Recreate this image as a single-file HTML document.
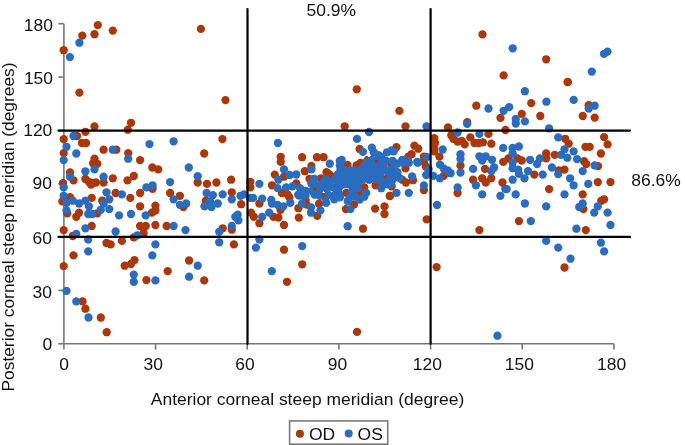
<!DOCTYPE html>
<html><head><meta charset="utf-8"><title>Scatter plot</title>
<style>html,body{margin:0;padding:0;background:#fff;}svg{display:block;}#w{width:685px;height:445px;}
text{font-family:"Liberation Sans",Arial,Helvetica,sans-serif;fill:#111;}</style></head>
<body><div id="w"><svg width="685" height="445" viewBox="0 0 685 445">
<rect width="685" height="445" fill="#fff"/>
<g><line x1="63.9" y1="23.7" x2="63.9" y2="343.8" stroke="#767676" stroke-width="1.6"/>
<line x1="63.9" y1="343.8" x2="613.9" y2="343.8" stroke="#767676" stroke-width="1.6"/>
<line x1="58.3" y1="343.8" x2="63.9" y2="343.8" stroke="#767676" stroke-width="1.6"/>
<line x1="63.9" y1="343.8" x2="63.9" y2="349.6" stroke="#767676" stroke-width="1.6"/>
<line x1="58.3" y1="290.4" x2="63.9" y2="290.4" stroke="#767676" stroke-width="1.6"/>
<line x1="155.6" y1="343.8" x2="155.6" y2="349.6" stroke="#767676" stroke-width="1.6"/>
<line x1="58.3" y1="237.1" x2="63.9" y2="237.1" stroke="#767676" stroke-width="1.6"/>
<line x1="247.2" y1="343.8" x2="247.2" y2="349.6" stroke="#767676" stroke-width="1.6"/>
<line x1="58.3" y1="183.8" x2="63.9" y2="183.8" stroke="#767676" stroke-width="1.6"/>
<line x1="338.9" y1="343.8" x2="338.9" y2="349.6" stroke="#767676" stroke-width="1.6"/>
<line x1="58.3" y1="130.4" x2="63.9" y2="130.4" stroke="#767676" stroke-width="1.6"/>
<line x1="430.6" y1="343.8" x2="430.6" y2="349.6" stroke="#767676" stroke-width="1.6"/>
<line x1="58.3" y1="77.1" x2="63.9" y2="77.1" stroke="#767676" stroke-width="1.6"/>
<line x1="522.2" y1="343.8" x2="522.2" y2="349.6" stroke="#767676" stroke-width="1.6"/>
<line x1="58.3" y1="23.7" x2="63.9" y2="23.7" stroke="#767676" stroke-width="1.6"/>
<line x1="613.9" y1="343.8" x2="613.9" y2="349.6" stroke="#767676" stroke-width="1.6"/></g>
<g><circle cx="97.8" cy="25.1" r="4.15" fill="#aa380b"/>
<circle cx="112.8" cy="30.6" r="4.15" fill="#aa380b"/>
<circle cx="94.5" cy="34.2" r="4.15" fill="#aa380b"/>
<circle cx="82.3" cy="35.6" r="4.15" fill="#aa380b"/>
<circle cx="63.7" cy="50.2" r="4.15" fill="#aa380b"/>
<circle cx="200.9" cy="28.9" r="4.15" fill="#aa380b"/>
<circle cx="356.8" cy="89.3" r="4.15" fill="#aa380b"/>
<circle cx="399.4" cy="110.9" r="4.15" fill="#aa380b"/>
<circle cx="344.7" cy="126.3" r="4.15" fill="#aa380b"/>
<circle cx="405.5" cy="126.3" r="4.15" fill="#aa380b"/>
<circle cx="482.5" cy="34.4" r="4.15" fill="#aa380b"/>
<circle cx="546.2" cy="59.3" r="4.15" fill="#aa380b"/>
<circle cx="79.4" cy="92.6" r="4.15" fill="#aa380b"/>
<circle cx="131" cy="122.8" r="4.15" fill="#aa380b"/>
<circle cx="225.5" cy="100.1" r="4.15" fill="#aa380b"/>
<circle cx="503.6" cy="75.4" r="4.15" fill="#aa380b"/>
<circle cx="476.3" cy="105.7" r="4.15" fill="#aa380b"/>
<circle cx="500.5" cy="117.9" r="4.15" fill="#aa380b"/>
<circle cx="467.2" cy="122.1" r="4.15" fill="#aa380b"/>
<circle cx="567.7" cy="82.1" r="4.15" fill="#aa380b"/>
<circle cx="531.2" cy="103.1" r="4.15" fill="#aa380b"/>
<circle cx="588.7" cy="105.2" r="4.15" fill="#aa380b"/>
<circle cx="521.8" cy="113.9" r="4.15" fill="#aa380b"/>
<circle cx="540.3" cy="116" r="4.15" fill="#aa380b"/>
<circle cx="582.8" cy="116" r="4.15" fill="#aa380b"/>
<circle cx="594.7" cy="117.6" r="4.15" fill="#aa380b"/>
<circle cx="567.7" cy="82" r="4.15" fill="#aa380b"/>
<circle cx="448" cy="127.5" r="4.15" fill="#aa380b"/>
<circle cx="94.5" cy="126.5" r="4.15" fill="#aa380b"/>
<circle cx="127.8" cy="129.7" r="4.15" fill="#aa380b"/>
<circle cx="85.4" cy="131.8" r="4.15" fill="#aa380b"/>
<circle cx="77" cy="136" r="4.15" fill="#aa380b"/>
<circle cx="63.7" cy="139.1" r="4.15" fill="#aa380b"/>
<circle cx="81.9" cy="143" r="4.15" fill="#aa380b"/>
<circle cx="86.1" cy="143" r="4.15" fill="#aa380b"/>
<circle cx="103.6" cy="149.7" r="4.15" fill="#aa380b"/>
<circle cx="116.3" cy="149.7" r="4.15" fill="#aa380b"/>
<circle cx="63.7" cy="153.1" r="4.15" fill="#aa380b"/>
<circle cx="128.2" cy="153.1" r="4.15" fill="#aa380b"/>
<circle cx="140.1" cy="160.1" r="4.15" fill="#aa380b"/>
<circle cx="94.5" cy="158.7" r="4.15" fill="#aa380b"/>
<circle cx="97.3" cy="163.8" r="4.15" fill="#aa380b"/>
<circle cx="93.1" cy="163.3" r="4.15" fill="#aa380b"/>
<circle cx="70" cy="172.5" r="4.15" fill="#aa380b"/>
<circle cx="133.8" cy="176" r="4.15" fill="#aa380b"/>
<circle cx="222.4" cy="139.1" r="4.15" fill="#aa380b"/>
<circle cx="204.2" cy="153.5" r="4.15" fill="#aa380b"/>
<circle cx="152.3" cy="167.5" r="4.15" fill="#aa380b"/>
<circle cx="158.2" cy="169.4" r="4.15" fill="#aa380b"/>
<circle cx="280.7" cy="156.8" r="4.15" fill="#aa380b"/>
<circle cx="280.7" cy="161.9" r="4.15" fill="#aa380b"/>
<circle cx="274.8" cy="174.6" r="4.15" fill="#aa380b"/>
<circle cx="284" cy="176.7" r="4.15" fill="#aa380b"/>
<circle cx="302.1" cy="157.2" r="4.15" fill="#aa380b"/>
<circle cx="317" cy="157.2" r="4.15" fill="#aa380b"/>
<circle cx="323.6" cy="157.2" r="4.15" fill="#aa380b"/>
<circle cx="359.6" cy="149" r="4.15" fill="#aa380b"/>
<circle cx="396.5" cy="147.1" r="4.15" fill="#aa380b"/>
<circle cx="414.4" cy="145.7" r="4.15" fill="#aa380b"/>
<circle cx="418.2" cy="148.7" r="4.15" fill="#aa380b"/>
<circle cx="411.6" cy="154.2" r="4.15" fill="#aa380b"/>
<circle cx="408.3" cy="156.6" r="4.15" fill="#aa380b"/>
<circle cx="423.9" cy="156.6" r="4.15" fill="#aa380b"/>
<circle cx="423.9" cy="161.8" r="4.15" fill="#aa380b"/>
<circle cx="434.2" cy="138.2" r="4.15" fill="#aa380b"/>
<circle cx="435.2" cy="142.9" r="4.15" fill="#aa380b"/>
<circle cx="434.2" cy="148.5" r="4.15" fill="#aa380b"/>
<circle cx="434.2" cy="151.4" r="4.15" fill="#aa380b"/>
<circle cx="439.4" cy="156.6" r="4.15" fill="#aa380b"/>
<circle cx="311.4" cy="166" r="4.15" fill="#aa380b"/>
<circle cx="304.8" cy="171.2" r="4.15" fill="#aa380b"/>
<circle cx="326.5" cy="172.2" r="4.15" fill="#aa380b"/>
<circle cx="329.3" cy="174.5" r="4.15" fill="#aa380b"/>
<circle cx="309.5" cy="178.8" r="4.15" fill="#aa380b"/>
<circle cx="320.8" cy="178.3" r="4.15" fill="#aa380b"/>
<circle cx="296.3" cy="183.5" r="4.15" fill="#aa380b"/>
<circle cx="375.6" cy="185.4" r="4.15" fill="#aa380b"/>
<circle cx="391.7" cy="186.3" r="4.15" fill="#aa380b"/>
<circle cx="358.7" cy="192.9" r="4.15" fill="#aa380b"/>
<circle cx="364.3" cy="187.3" r="4.15" fill="#aa380b"/>
<circle cx="346.4" cy="192.9" r="4.15" fill="#aa380b"/>
<circle cx="389.8" cy="195.8" r="4.15" fill="#aa380b"/>
<circle cx="405.5" cy="168.4" r="4.15" fill="#aa380b"/>
<circle cx="405.9" cy="182.5" r="4.15" fill="#aa380b"/>
<circle cx="402.2" cy="179.7" r="4.15" fill="#aa380b"/>
<circle cx="413" cy="180.2" r="4.15" fill="#aa380b"/>
<circle cx="425.8" cy="166.5" r="4.15" fill="#aa380b"/>
<circle cx="443.7" cy="175.9" r="4.15" fill="#aa380b"/>
<circle cx="423.9" cy="190.1" r="4.15" fill="#aa380b"/>
<circle cx="289.4" cy="197.4" r="4.15" fill="#aa380b"/>
<circle cx="298.4" cy="208.2" r="4.15" fill="#aa380b"/>
<circle cx="298.8" cy="217.6" r="4.15" fill="#aa380b"/>
<circle cx="306.5" cy="204.6" r="4.15" fill="#aa380b"/>
<circle cx="305.6" cy="200.1" r="4.15" fill="#aa380b"/>
<circle cx="319.1" cy="203.7" r="4.15" fill="#aa380b"/>
<circle cx="317.3" cy="215.8" r="4.15" fill="#aa380b"/>
<circle cx="345.9" cy="209.1" r="4.15" fill="#aa380b"/>
<circle cx="354" cy="204.6" r="4.15" fill="#aa380b"/>
<circle cx="375.1" cy="208.6" r="4.15" fill="#aa380b"/>
<circle cx="384.5" cy="206.4" r="4.15" fill="#aa380b"/>
<circle cx="384.5" cy="214" r="4.15" fill="#aa380b"/>
<circle cx="389.9" cy="196" r="4.15" fill="#aa380b"/>
<circle cx="426.7" cy="219.4" r="4.15" fill="#aa380b"/>
<circle cx="451.3" cy="135.3" r="4.15" fill="#aa380b"/>
<circle cx="453.4" cy="138.8" r="4.15" fill="#aa380b"/>
<circle cx="457.6" cy="141.6" r="4.15" fill="#aa380b"/>
<circle cx="461.9" cy="140.9" r="4.15" fill="#aa380b"/>
<circle cx="464.7" cy="144.4" r="4.15" fill="#aa380b"/>
<circle cx="470.3" cy="137.4" r="4.15" fill="#aa380b"/>
<circle cx="474.5" cy="143" r="4.15" fill="#aa380b"/>
<circle cx="478.7" cy="143" r="4.15" fill="#aa380b"/>
<circle cx="482.9" cy="142.3" r="4.15" fill="#aa380b"/>
<circle cx="488.5" cy="133.9" r="4.15" fill="#aa380b"/>
<circle cx="491.3" cy="143.7" r="4.15" fill="#aa380b"/>
<circle cx="460.5" cy="165.4" r="4.15" fill="#aa380b"/>
<circle cx="485" cy="168.9" r="4.15" fill="#aa380b"/>
<circle cx="503.2" cy="161.9" r="4.15" fill="#aa380b"/>
<circle cx="505.5" cy="130" r="4.15" fill="#aa380b"/>
<circle cx="565.2" cy="138.8" r="4.15" fill="#aa380b"/>
<circle cx="568.7" cy="143.7" r="4.15" fill="#aa380b"/>
<circle cx="585.5" cy="146.9" r="4.15" fill="#aa380b"/>
<circle cx="589.7" cy="146.9" r="4.15" fill="#aa380b"/>
<circle cx="508.4" cy="158.4" r="4.15" fill="#aa380b"/>
<circle cx="517.5" cy="158.4" r="4.15" fill="#aa380b"/>
<circle cx="521.7" cy="160.5" r="4.15" fill="#aa380b"/>
<circle cx="546.2" cy="153.5" r="4.15" fill="#aa380b"/>
<circle cx="546.2" cy="158.4" r="4.15" fill="#aa380b"/>
<circle cx="554.7" cy="154.9" r="4.15" fill="#aa380b"/>
<circle cx="584.1" cy="161.2" r="4.15" fill="#aa380b"/>
<circle cx="586.2" cy="164" r="4.15" fill="#aa380b"/>
<circle cx="534.3" cy="174.6" r="4.15" fill="#aa380b"/>
<circle cx="564.5" cy="169.6" r="4.15" fill="#aa380b"/>
<circle cx="558.9" cy="170.4" r="4.15" fill="#aa380b"/>
<circle cx="604.1" cy="137.1" r="4.15" fill="#aa380b"/>
<circle cx="607.6" cy="144.4" r="4.15" fill="#aa380b"/>
<circle cx="600.9" cy="153.5" r="4.15" fill="#aa380b"/>
<circle cx="598.1" cy="166.1" r="4.15" fill="#aa380b"/>
<circle cx="73.5" cy="180.4" r="4.15" fill="#aa380b"/>
<circle cx="85.4" cy="179" r="4.15" fill="#aa380b"/>
<circle cx="88.9" cy="181.8" r="4.15" fill="#aa380b"/>
<circle cx="92.4" cy="183.2" r="4.15" fill="#aa380b"/>
<circle cx="95.9" cy="182.5" r="4.15" fill="#aa380b"/>
<circle cx="91" cy="184.6" r="4.15" fill="#aa380b"/>
<circle cx="103.6" cy="182.5" r="4.15" fill="#aa380b"/>
<circle cx="112.8" cy="178.3" r="4.15" fill="#aa380b"/>
<circle cx="127.5" cy="180.4" r="4.15" fill="#aa380b"/>
<circle cx="63" cy="183.2" r="4.15" fill="#aa380b"/>
<circle cx="115.6" cy="193" r="4.15" fill="#aa380b"/>
<circle cx="130.3" cy="197.9" r="4.15" fill="#aa380b"/>
<circle cx="140.1" cy="193" r="4.15" fill="#aa380b"/>
<circle cx="70" cy="197.2" r="4.15" fill="#aa380b"/>
<circle cx="62.3" cy="201.4" r="4.15" fill="#aa380b"/>
<circle cx="91.7" cy="197.9" r="4.15" fill="#aa380b"/>
<circle cx="102.2" cy="200.7" r="4.15" fill="#aa380b"/>
<circle cx="67.2" cy="213.3" r="4.15" fill="#aa380b"/>
<circle cx="79.1" cy="212.6" r="4.15" fill="#aa380b"/>
<circle cx="76.3" cy="216.8" r="4.15" fill="#aa380b"/>
<circle cx="97.3" cy="213.3" r="4.15" fill="#aa380b"/>
<circle cx="140.1" cy="206.3" r="4.15" fill="#aa380b"/>
<circle cx="91.7" cy="226" r="4.15" fill="#aa380b"/>
<circle cx="140.1" cy="226" r="4.15" fill="#aa380b"/>
<circle cx="145.7" cy="226" r="4.15" fill="#aa380b"/>
<circle cx="197.7" cy="182.5" r="4.15" fill="#aa380b"/>
<circle cx="207" cy="183.9" r="4.15" fill="#aa380b"/>
<circle cx="216.4" cy="182.5" r="4.15" fill="#aa380b"/>
<circle cx="231.1" cy="179.7" r="4.15" fill="#aa380b"/>
<circle cx="152.6" cy="188.8" r="4.15" fill="#aa380b"/>
<circle cx="170.1" cy="193" r="4.15" fill="#aa380b"/>
<circle cx="179.9" cy="195.8" r="4.15" fill="#aa380b"/>
<circle cx="183.4" cy="207" r="4.15" fill="#aa380b"/>
<circle cx="205.9" cy="200.7" r="4.15" fill="#aa380b"/>
<circle cx="231.8" cy="192.3" r="4.15" fill="#aa380b"/>
<circle cx="155.4" cy="205.6" r="4.15" fill="#aa380b"/>
<circle cx="155.4" cy="210.5" r="4.15" fill="#aa380b"/>
<circle cx="151.9" cy="212.6" r="4.15" fill="#aa380b"/>
<circle cx="155.4" cy="225" r="4.15" fill="#aa380b"/>
<circle cx="166.6" cy="226" r="4.15" fill="#aa380b"/>
<circle cx="250.3" cy="181.8" r="4.15" fill="#aa380b"/>
<circle cx="250.3" cy="187.4" r="4.15" fill="#aa380b"/>
<circle cx="272" cy="185.3" r="4.15" fill="#aa380b"/>
<circle cx="281.9" cy="193" r="4.15" fill="#aa380b"/>
<circle cx="287.5" cy="194.4" r="4.15" fill="#aa380b"/>
<circle cx="259.4" cy="203.5" r="4.15" fill="#aa380b"/>
<circle cx="241.2" cy="204.2" r="4.15" fill="#aa380b"/>
<circle cx="280.5" cy="209.8" r="4.15" fill="#aa380b"/>
<circle cx="251" cy="212.6" r="4.15" fill="#aa380b"/>
<circle cx="253.8" cy="216.8" r="4.15" fill="#aa380b"/>
<circle cx="273.4" cy="216.8" r="4.15" fill="#aa380b"/>
<circle cx="278.4" cy="217.5" r="4.15" fill="#aa380b"/>
<circle cx="259.4" cy="223.2" r="4.15" fill="#aa380b"/>
<circle cx="284" cy="225" r="4.15" fill="#aa380b"/>
<circle cx="473.1" cy="179.7" r="4.15" fill="#aa380b"/>
<circle cx="482.2" cy="178.3" r="4.15" fill="#aa380b"/>
<circle cx="485.7" cy="182.5" r="4.15" fill="#aa380b"/>
<circle cx="491.3" cy="178.3" r="4.15" fill="#aa380b"/>
<circle cx="457.6" cy="193" r="4.15" fill="#aa380b"/>
<circle cx="502.5" cy="182.5" r="4.15" fill="#aa380b"/>
<circle cx="549.1" cy="189.1" r="4.15" fill="#aa380b"/>
<circle cx="582.7" cy="194.4" r="4.15" fill="#aa380b"/>
<circle cx="583.4" cy="209.1" r="4.15" fill="#aa380b"/>
<circle cx="518.9" cy="221.1" r="4.15" fill="#aa380b"/>
<circle cx="597.8" cy="182.1" r="4.15" fill="#aa380b"/>
<circle cx="610.5" cy="182.1" r="4.15" fill="#aa380b"/>
<circle cx="601.3" cy="200.7" r="4.15" fill="#aa380b"/>
<circle cx="604.1" cy="199.3" r="4.15" fill="#aa380b"/>
<circle cx="63.7" cy="230.1" r="4.15" fill="#aa380b"/>
<circle cx="72.8" cy="236" r="4.15" fill="#aa380b"/>
<circle cx="143.6" cy="233.2" r="4.15" fill="#aa380b"/>
<circle cx="133.8" cy="237.4" r="4.15" fill="#aa380b"/>
<circle cx="121.9" cy="240.9" r="4.15" fill="#aa380b"/>
<circle cx="106.5" cy="243" r="4.15" fill="#aa380b"/>
<circle cx="110.7" cy="244.4" r="4.15" fill="#aa380b"/>
<circle cx="73.5" cy="255.4" r="4.15" fill="#aa380b"/>
<circle cx="63.7" cy="266.1" r="4.15" fill="#aa380b"/>
<circle cx="124.7" cy="265.7" r="4.15" fill="#aa380b"/>
<circle cx="131" cy="264" r="4.15" fill="#aa380b"/>
<circle cx="134.5" cy="260.1" r="4.15" fill="#aa380b"/>
<circle cx="222.7" cy="228.3" r="4.15" fill="#aa380b"/>
<circle cx="231.8" cy="229.7" r="4.15" fill="#aa380b"/>
<circle cx="233.9" cy="244.4" r="4.15" fill="#aa380b"/>
<circle cx="189.1" cy="260.5" r="4.15" fill="#aa380b"/>
<circle cx="167.7" cy="271.1" r="4.15" fill="#aa380b"/>
<circle cx="284" cy="249.7" r="4.15" fill="#aa380b"/>
<circle cx="302.2" cy="264.3" r="4.15" fill="#aa380b"/>
<circle cx="363" cy="228.7" r="4.15" fill="#aa380b"/>
<circle cx="479.4" cy="230.1" r="4.15" fill="#aa380b"/>
<circle cx="436.6" cy="267.1" r="4.15" fill="#aa380b"/>
<circle cx="585.8" cy="230.1" r="4.15" fill="#aa380b"/>
<circle cx="564.5" cy="267.5" r="4.15" fill="#aa380b"/>
<circle cx="146.4" cy="280.1" r="4.15" fill="#aa380b"/>
<circle cx="82.6" cy="301.4" r="4.15" fill="#aa380b"/>
<circle cx="85.4" cy="308.7" r="4.15" fill="#aa380b"/>
<circle cx="100.8" cy="317.5" r="4.15" fill="#aa380b"/>
<circle cx="204.2" cy="280.4" r="4.15" fill="#aa380b"/>
<circle cx="287" cy="281.8" r="4.15" fill="#aa380b"/>
<circle cx="357" cy="331.9" r="4.15" fill="#aa380b"/>
<circle cx="106.7" cy="332.2" r="4.15" fill="#aa380b"/>
<circle cx="347.5" cy="165" r="4.15" fill="#aa380b"/>
<circle cx="356.5" cy="165.5" r="4.15" fill="#aa380b"/>
<circle cx="360.5" cy="163" r="4.15" fill="#aa380b"/>
<circle cx="79.4" cy="42.7" r="4.15" fill="#2c6cbf"/>
<circle cx="69.9" cy="57.1" r="4.15" fill="#2c6cbf"/>
<circle cx="426.5" cy="126.3" r="4.15" fill="#2c6cbf"/>
<circle cx="512.7" cy="48.3" r="4.15" fill="#2c6cbf"/>
<circle cx="604" cy="53.9" r="4.15" fill="#2c6cbf"/>
<circle cx="607.5" cy="51.6" r="4.15" fill="#2c6cbf"/>
<circle cx="488.5" cy="108.5" r="4.15" fill="#2c6cbf"/>
<circle cx="503.6" cy="110.8" r="4.15" fill="#2c6cbf"/>
<circle cx="509.2" cy="107.1" r="4.15" fill="#2c6cbf"/>
<circle cx="467.2" cy="123.9" r="4.15" fill="#2c6cbf"/>
<circle cx="591.8" cy="71.6" r="4.15" fill="#2c6cbf"/>
<circle cx="524.9" cy="91.2" r="4.15" fill="#2c6cbf"/>
<circle cx="546.4" cy="101.7" r="4.15" fill="#2c6cbf"/>
<circle cx="573.7" cy="99.9" r="4.15" fill="#2c6cbf"/>
<circle cx="588.7" cy="108.5" r="4.15" fill="#2c6cbf"/>
<circle cx="594.7" cy="105.7" r="4.15" fill="#2c6cbf"/>
<circle cx="515.8" cy="119" r="4.15" fill="#2c6cbf"/>
<circle cx="515.8" cy="123.5" r="4.15" fill="#2c6cbf"/>
<circle cx="524.9" cy="121.4" r="4.15" fill="#2c6cbf"/>
<circle cx="73.5" cy="136" r="4.15" fill="#2c6cbf"/>
<circle cx="66.5" cy="146.8" r="4.15" fill="#2c6cbf"/>
<circle cx="112.8" cy="149.7" r="4.15" fill="#2c6cbf"/>
<circle cx="76.3" cy="153.5" r="4.15" fill="#2c6cbf"/>
<circle cx="128.2" cy="158.7" r="4.15" fill="#2c6cbf"/>
<circle cx="63.7" cy="160.1" r="4.15" fill="#2c6cbf"/>
<circle cx="94.5" cy="169.4" r="4.15" fill="#2c6cbf"/>
<circle cx="85.4" cy="171.3" r="4.15" fill="#2c6cbf"/>
<circle cx="70" cy="176.7" r="4.15" fill="#2c6cbf"/>
<circle cx="103.6" cy="176.7" r="4.15" fill="#2c6cbf"/>
<circle cx="149.5" cy="144.1" r="4.15" fill="#2c6cbf"/>
<circle cx="173.6" cy="141.3" r="4.15" fill="#2c6cbf"/>
<circle cx="188.8" cy="167.5" r="4.15" fill="#2c6cbf"/>
<circle cx="197.7" cy="176.2" r="4.15" fill="#2c6cbf"/>
<circle cx="277.9" cy="143" r="4.15" fill="#2c6cbf"/>
<circle cx="284" cy="169.4" r="4.15" fill="#2c6cbf"/>
<circle cx="369" cy="132" r="4.15" fill="#2c6cbf"/>
<circle cx="357" cy="138.9" r="4.15" fill="#2c6cbf"/>
<circle cx="362.9" cy="151.8" r="4.15" fill="#2c6cbf"/>
<circle cx="371.9" cy="147.6" r="4.15" fill="#2c6cbf"/>
<circle cx="341.7" cy="159.9" r="4.15" fill="#2c6cbf"/>
<circle cx="387" cy="152.3" r="4.15" fill="#2c6cbf"/>
<circle cx="373.8" cy="152.3" r="4.15" fill="#2c6cbf"/>
<circle cx="378.5" cy="155.1" r="4.15" fill="#2c6cbf"/>
<circle cx="381.3" cy="157" r="4.15" fill="#2c6cbf"/>
<circle cx="371.9" cy="159.9" r="4.15" fill="#2c6cbf"/>
<circle cx="393.7" cy="151.4" r="4.15" fill="#2c6cbf"/>
<circle cx="402.2" cy="159.9" r="4.15" fill="#2c6cbf"/>
<circle cx="407.8" cy="160.8" r="4.15" fill="#2c6cbf"/>
<circle cx="417.3" cy="161.8" r="4.15" fill="#2c6cbf"/>
<circle cx="426.7" cy="157" r="4.15" fill="#2c6cbf"/>
<circle cx="442.7" cy="149.5" r="4.15" fill="#2c6cbf"/>
<circle cx="391.5" cy="150.5" r="4.15" fill="#2c6cbf"/>
<circle cx="329.8" cy="163.7" r="4.15" fill="#2c6cbf"/>
<circle cx="311.4" cy="169.3" r="4.15" fill="#2c6cbf"/>
<circle cx="289.7" cy="175" r="4.15" fill="#2c6cbf"/>
<circle cx="296.3" cy="174.5" r="4.15" fill="#2c6cbf"/>
<circle cx="326" cy="178.8" r="4.15" fill="#2c6cbf"/>
<circle cx="314.2" cy="178.8" r="4.15" fill="#2c6cbf"/>
<circle cx="336.9" cy="175" r="4.15" fill="#2c6cbf"/>
<circle cx="340.6" cy="162.7" r="4.15" fill="#2c6cbf"/>
<circle cx="340.6" cy="169.3" r="4.15" fill="#2c6cbf"/>
<circle cx="340.6" cy="176.9" r="4.15" fill="#2c6cbf"/>
<circle cx="292.5" cy="186.3" r="4.15" fill="#2c6cbf"/>
<circle cx="300" cy="188.2" r="4.15" fill="#2c6cbf"/>
<circle cx="305.7" cy="191" r="4.15" fill="#2c6cbf"/>
<circle cx="311.4" cy="183.5" r="4.15" fill="#2c6cbf"/>
<circle cx="317" cy="185.4" r="4.15" fill="#2c6cbf"/>
<circle cx="323.6" cy="182.5" r="4.15" fill="#2c6cbf"/>
<circle cx="329.3" cy="181.6" r="4.15" fill="#2c6cbf"/>
<circle cx="335" cy="179.7" r="4.15" fill="#2c6cbf"/>
<circle cx="312.3" cy="191" r="4.15" fill="#2c6cbf"/>
<circle cx="319.9" cy="189.1" r="4.15" fill="#2c6cbf"/>
<circle cx="326.5" cy="188.2" r="4.15" fill="#2c6cbf"/>
<circle cx="333.1" cy="187.3" r="4.15" fill="#2c6cbf"/>
<circle cx="335.9" cy="193.9" r="4.15" fill="#2c6cbf"/>
<circle cx="328.4" cy="194.8" r="4.15" fill="#2c6cbf"/>
<circle cx="319.9" cy="195.8" r="4.15" fill="#2c6cbf"/>
<circle cx="298.2" cy="194.8" r="4.15" fill="#2c6cbf"/>
<circle cx="339.8" cy="160.8" r="4.15" fill="#2c6cbf"/>
<circle cx="367.1" cy="160.8" r="4.15" fill="#2c6cbf"/>
<circle cx="371.9" cy="160.8" r="4.15" fill="#2c6cbf"/>
<circle cx="376.6" cy="160.8" r="4.15" fill="#2c6cbf"/>
<circle cx="381.3" cy="160.8" r="4.15" fill="#2c6cbf"/>
<circle cx="386" cy="160.8" r="4.15" fill="#2c6cbf"/>
<circle cx="392.6" cy="160.8" r="4.15" fill="#2c6cbf"/>
<circle cx="339.8" cy="165.6" r="4.15" fill="#2c6cbf"/>
<circle cx="364.3" cy="165.6" r="4.15" fill="#2c6cbf"/>
<circle cx="369" cy="165.6" r="4.15" fill="#2c6cbf"/>
<circle cx="373.8" cy="165.6" r="4.15" fill="#2c6cbf"/>
<circle cx="378.5" cy="165.6" r="4.15" fill="#2c6cbf"/>
<circle cx="383.2" cy="165.6" r="4.15" fill="#2c6cbf"/>
<circle cx="392.6" cy="165.6" r="4.15" fill="#2c6cbf"/>
<circle cx="340.7" cy="170.3" r="4.15" fill="#2c6cbf"/>
<circle cx="345.4" cy="170.3" r="4.15" fill="#2c6cbf"/>
<circle cx="350.2" cy="170.3" r="4.15" fill="#2c6cbf"/>
<circle cx="354.9" cy="170.3" r="4.15" fill="#2c6cbf"/>
<circle cx="359.6" cy="170.3" r="4.15" fill="#2c6cbf"/>
<circle cx="364.3" cy="170.3" r="4.15" fill="#2c6cbf"/>
<circle cx="369" cy="170.3" r="4.15" fill="#2c6cbf"/>
<circle cx="373.8" cy="170.3" r="4.15" fill="#2c6cbf"/>
<circle cx="378.5" cy="170.3" r="4.15" fill="#2c6cbf"/>
<circle cx="383.2" cy="170.3" r="4.15" fill="#2c6cbf"/>
<circle cx="387.9" cy="170.3" r="4.15" fill="#2c6cbf"/>
<circle cx="392.6" cy="170.3" r="4.15" fill="#2c6cbf"/>
<circle cx="338.8" cy="175" r="4.15" fill="#2c6cbf"/>
<circle cx="343.6" cy="175" r="4.15" fill="#2c6cbf"/>
<circle cx="348.3" cy="175" r="4.15" fill="#2c6cbf"/>
<circle cx="353" cy="175" r="4.15" fill="#2c6cbf"/>
<circle cx="357.7" cy="175" r="4.15" fill="#2c6cbf"/>
<circle cx="362.4" cy="175" r="4.15" fill="#2c6cbf"/>
<circle cx="367.1" cy="175" r="4.15" fill="#2c6cbf"/>
<circle cx="371.9" cy="175" r="4.15" fill="#2c6cbf"/>
<circle cx="376.6" cy="175" r="4.15" fill="#2c6cbf"/>
<circle cx="380.4" cy="175" r="4.15" fill="#2c6cbf"/>
<circle cx="388.9" cy="175" r="4.15" fill="#2c6cbf"/>
<circle cx="393.6" cy="175" r="4.15" fill="#2c6cbf"/>
<circle cx="338.8" cy="179.7" r="4.15" fill="#2c6cbf"/>
<circle cx="343.6" cy="179.7" r="4.15" fill="#2c6cbf"/>
<circle cx="348.3" cy="179.7" r="4.15" fill="#2c6cbf"/>
<circle cx="353" cy="179.7" r="4.15" fill="#2c6cbf"/>
<circle cx="357.7" cy="179.7" r="4.15" fill="#2c6cbf"/>
<circle cx="362.4" cy="179.7" r="4.15" fill="#2c6cbf"/>
<circle cx="369" cy="179.7" r="4.15" fill="#2c6cbf"/>
<circle cx="375.6" cy="179.7" r="4.15" fill="#2c6cbf"/>
<circle cx="380.4" cy="179.7" r="4.15" fill="#2c6cbf"/>
<circle cx="386" cy="179.7" r="4.15" fill="#2c6cbf"/>
<circle cx="391.7" cy="179.7" r="4.15" fill="#2c6cbf"/>
<circle cx="338.8" cy="184.4" r="4.15" fill="#2c6cbf"/>
<circle cx="343.6" cy="184.4" r="4.15" fill="#2c6cbf"/>
<circle cx="348.3" cy="184.4" r="4.15" fill="#2c6cbf"/>
<circle cx="353" cy="184.4" r="4.15" fill="#2c6cbf"/>
<circle cx="357.7" cy="184.4" r="4.15" fill="#2c6cbf"/>
<circle cx="383.2" cy="184.4" r="4.15" fill="#2c6cbf"/>
<circle cx="387.9" cy="184.4" r="4.15" fill="#2c6cbf"/>
<circle cx="338.8" cy="188.2" r="4.15" fill="#2c6cbf"/>
<circle cx="353" cy="188.2" r="4.15" fill="#2c6cbf"/>
<circle cx="357.7" cy="188.2" r="4.15" fill="#2c6cbf"/>
<circle cx="381.3" cy="188.2" r="4.15" fill="#2c6cbf"/>
<circle cx="338.8" cy="192.9" r="4.15" fill="#2c6cbf"/>
<circle cx="351.1" cy="192.9" r="4.15" fill="#2c6cbf"/>
<circle cx="366.2" cy="192.9" r="4.15" fill="#2c6cbf"/>
<circle cx="339.8" cy="196.7" r="4.15" fill="#2c6cbf"/>
<circle cx="350.2" cy="196.7" r="4.15" fill="#2c6cbf"/>
<circle cx="354.9" cy="196.7" r="4.15" fill="#2c6cbf"/>
<circle cx="364.3" cy="196.7" r="4.15" fill="#2c6cbf"/>
<circle cx="408.8" cy="162.7" r="4.15" fill="#2c6cbf"/>
<circle cx="403.1" cy="162.7" r="4.15" fill="#2c6cbf"/>
<circle cx="397.4" cy="163.7" r="4.15" fill="#2c6cbf"/>
<circle cx="417.7" cy="162.7" r="4.15" fill="#2c6cbf"/>
<circle cx="393.7" cy="170.3" r="4.15" fill="#2c6cbf"/>
<circle cx="397.4" cy="172.2" r="4.15" fill="#2c6cbf"/>
<circle cx="399.3" cy="177.8" r="4.15" fill="#2c6cbf"/>
<circle cx="392.7" cy="179.7" r="4.15" fill="#2c6cbf"/>
<circle cx="412.1" cy="176.4" r="4.15" fill="#2c6cbf"/>
<circle cx="428.6" cy="169.3" r="4.15" fill="#2c6cbf"/>
<circle cx="426.2" cy="175" r="4.15" fill="#2c6cbf"/>
<circle cx="433.3" cy="175.9" r="4.15" fill="#2c6cbf"/>
<circle cx="439.9" cy="178.3" r="4.15" fill="#2c6cbf"/>
<circle cx="439.9" cy="164.6" r="4.15" fill="#2c6cbf"/>
<circle cx="443.7" cy="168.4" r="4.15" fill="#2c6cbf"/>
<circle cx="423.9" cy="185.4" r="4.15" fill="#2c6cbf"/>
<circle cx="396.5" cy="192.9" r="4.15" fill="#2c6cbf"/>
<circle cx="408.8" cy="192.9" r="4.15" fill="#2c6cbf"/>
<circle cx="389.9" cy="175" r="4.15" fill="#2c6cbf"/>
<circle cx="393.7" cy="176.9" r="4.15" fill="#2c6cbf"/>
<circle cx="390.8" cy="184.4" r="4.15" fill="#2c6cbf"/>
<circle cx="290.3" cy="202.8" r="4.15" fill="#2c6cbf"/>
<circle cx="299.3" cy="195.6" r="4.15" fill="#2c6cbf"/>
<circle cx="302" cy="203.7" r="4.15" fill="#2c6cbf"/>
<circle cx="305.6" cy="195.6" r="4.15" fill="#2c6cbf"/>
<circle cx="311" cy="207.3" r="4.15" fill="#2c6cbf"/>
<circle cx="311" cy="212.7" r="4.15" fill="#2c6cbf"/>
<circle cx="314.6" cy="194.7" r="4.15" fill="#2c6cbf"/>
<circle cx="320.4" cy="210.4" r="4.15" fill="#2c6cbf"/>
<circle cx="326.2" cy="202.8" r="4.15" fill="#2c6cbf"/>
<circle cx="325.3" cy="197.4" r="4.15" fill="#2c6cbf"/>
<circle cx="334.3" cy="199.2" r="4.15" fill="#2c6cbf"/>
<circle cx="339.7" cy="197.4" r="4.15" fill="#2c6cbf"/>
<circle cx="347.7" cy="201" r="4.15" fill="#2c6cbf"/>
<circle cx="351.3" cy="196.5" r="4.15" fill="#2c6cbf"/>
<circle cx="350.4" cy="209.1" r="4.15" fill="#2c6cbf"/>
<circle cx="359.8" cy="199.6" r="4.15" fill="#2c6cbf"/>
<circle cx="347.7" cy="226.2" r="4.15" fill="#2c6cbf"/>
<circle cx="437" cy="205" r="4.15" fill="#2c6cbf"/>
<circle cx="457.6" cy="132.5" r="4.15" fill="#2c6cbf"/>
<circle cx="479.4" cy="133.9" r="4.15" fill="#2c6cbf"/>
<circle cx="503.2" cy="147.9" r="4.15" fill="#2c6cbf"/>
<circle cx="460.5" cy="154.2" r="4.15" fill="#2c6cbf"/>
<circle cx="460.5" cy="159.1" r="4.15" fill="#2c6cbf"/>
<circle cx="460.5" cy="172.5" r="4.15" fill="#2c6cbf"/>
<circle cx="447.8" cy="170.4" r="4.15" fill="#2c6cbf"/>
<circle cx="450.6" cy="173.2" r="4.15" fill="#2c6cbf"/>
<circle cx="473.1" cy="168.9" r="4.15" fill="#2c6cbf"/>
<circle cx="479.4" cy="156.3" r="4.15" fill="#2c6cbf"/>
<circle cx="485.7" cy="156.3" r="4.15" fill="#2c6cbf"/>
<circle cx="482.2" cy="160.5" r="4.15" fill="#2c6cbf"/>
<circle cx="492" cy="159.8" r="4.15" fill="#2c6cbf"/>
<circle cx="494.1" cy="167.5" r="4.15" fill="#2c6cbf"/>
<circle cx="491.3" cy="171.1" r="4.15" fill="#2c6cbf"/>
<circle cx="549.1" cy="128.3" r="4.15" fill="#2c6cbf"/>
<circle cx="558.2" cy="137.4" r="4.15" fill="#2c6cbf"/>
<circle cx="512.6" cy="147.9" r="4.15" fill="#2c6cbf"/>
<circle cx="518.9" cy="146.5" r="4.15" fill="#2c6cbf"/>
<circle cx="512.6" cy="153.5" r="4.15" fill="#2c6cbf"/>
<circle cx="512.6" cy="162.6" r="4.15" fill="#2c6cbf"/>
<circle cx="530.1" cy="159.8" r="4.15" fill="#2c6cbf"/>
<circle cx="537.1" cy="164" r="4.15" fill="#2c6cbf"/>
<circle cx="539.9" cy="158.4" r="4.15" fill="#2c6cbf"/>
<circle cx="564.5" cy="149.3" r="4.15" fill="#2c6cbf"/>
<circle cx="561" cy="154.9" r="4.15" fill="#2c6cbf"/>
<circle cx="567.3" cy="157.7" r="4.15" fill="#2c6cbf"/>
<circle cx="573.6" cy="151.4" r="4.15" fill="#2c6cbf"/>
<circle cx="577.1" cy="159.1" r="4.15" fill="#2c6cbf"/>
<circle cx="594.6" cy="165.4" r="4.15" fill="#2c6cbf"/>
<circle cx="512.6" cy="168.2" r="4.15" fill="#2c6cbf"/>
<circle cx="518.2" cy="169.6" r="4.15" fill="#2c6cbf"/>
<circle cx="518.9" cy="173.9" r="4.15" fill="#2c6cbf"/>
<circle cx="528" cy="171.1" r="4.15" fill="#2c6cbf"/>
<circle cx="542.7" cy="174.6" r="4.15" fill="#2c6cbf"/>
<circle cx="551.9" cy="167.5" r="4.15" fill="#2c6cbf"/>
<circle cx="558.2" cy="174.1" r="4.15" fill="#2c6cbf"/>
<circle cx="582.7" cy="171.1" r="4.15" fill="#2c6cbf"/>
<circle cx="63.7" cy="187.4" r="4.15" fill="#2c6cbf"/>
<circle cx="106.5" cy="192.3" r="4.15" fill="#2c6cbf"/>
<circle cx="121.9" cy="194.4" r="4.15" fill="#2c6cbf"/>
<circle cx="63.7" cy="195.8" r="4.15" fill="#2c6cbf"/>
<circle cx="66.5" cy="202.8" r="4.15" fill="#2c6cbf"/>
<circle cx="72.8" cy="200.7" r="4.15" fill="#2c6cbf"/>
<circle cx="79.1" cy="203.5" r="4.15" fill="#2c6cbf"/>
<circle cx="85.4" cy="200.7" r="4.15" fill="#2c6cbf"/>
<circle cx="88.9" cy="206.3" r="4.15" fill="#2c6cbf"/>
<circle cx="103.6" cy="203.5" r="4.15" fill="#2c6cbf"/>
<circle cx="109.3" cy="199.3" r="4.15" fill="#2c6cbf"/>
<circle cx="109.3" cy="209.1" r="4.15" fill="#2c6cbf"/>
<circle cx="100.8" cy="209.8" r="4.15" fill="#2c6cbf"/>
<circle cx="66.5" cy="210.5" r="4.15" fill="#2c6cbf"/>
<circle cx="88.2" cy="214" r="4.15" fill="#2c6cbf"/>
<circle cx="92.4" cy="214" r="4.15" fill="#2c6cbf"/>
<circle cx="119.1" cy="215.4" r="4.15" fill="#2c6cbf"/>
<circle cx="131" cy="214" r="4.15" fill="#2c6cbf"/>
<circle cx="145.7" cy="215.4" r="4.15" fill="#2c6cbf"/>
<circle cx="170.1" cy="182.1" r="4.15" fill="#2c6cbf"/>
<circle cx="146.3" cy="187.4" r="4.15" fill="#2c6cbf"/>
<circle cx="152.6" cy="185.3" r="4.15" fill="#2c6cbf"/>
<circle cx="173.6" cy="199.3" r="4.15" fill="#2c6cbf"/>
<circle cx="179.9" cy="204.9" r="4.15" fill="#2c6cbf"/>
<circle cx="186.2" cy="203.5" r="4.15" fill="#2c6cbf"/>
<circle cx="206.6" cy="193" r="4.15" fill="#2c6cbf"/>
<circle cx="212.9" cy="195.1" r="4.15" fill="#2c6cbf"/>
<circle cx="210.1" cy="201.4" r="4.15" fill="#2c6cbf"/>
<circle cx="217.8" cy="203.5" r="4.15" fill="#2c6cbf"/>
<circle cx="204.5" cy="206.3" r="4.15" fill="#2c6cbf"/>
<circle cx="211.5" cy="207" r="4.15" fill="#2c6cbf"/>
<circle cx="222.7" cy="194.4" r="4.15" fill="#2c6cbf"/>
<circle cx="231.8" cy="199.3" r="4.15" fill="#2c6cbf"/>
<circle cx="173.6" cy="226" r="4.15" fill="#2c6cbf"/>
<circle cx="231.8" cy="226" r="4.15" fill="#2c6cbf"/>
<circle cx="235.3" cy="216.8" r="4.15" fill="#2c6cbf"/>
<circle cx="259.4" cy="183.9" r="4.15" fill="#2c6cbf"/>
<circle cx="278.4" cy="179.7" r="4.15" fill="#2c6cbf"/>
<circle cx="277.6" cy="188.1" r="4.15" fill="#2c6cbf"/>
<circle cx="286.1" cy="187.4" r="4.15" fill="#2c6cbf"/>
<circle cx="244" cy="194.4" r="4.15" fill="#2c6cbf"/>
<circle cx="240.5" cy="195.8" r="4.15" fill="#2c6cbf"/>
<circle cx="250.3" cy="197.9" r="4.15" fill="#2c6cbf"/>
<circle cx="253.1" cy="197.9" r="4.15" fill="#2c6cbf"/>
<circle cx="262.2" cy="198.6" r="4.15" fill="#2c6cbf"/>
<circle cx="271.3" cy="200" r="4.15" fill="#2c6cbf"/>
<circle cx="272" cy="203.5" r="4.15" fill="#2c6cbf"/>
<circle cx="277.6" cy="204.9" r="4.15" fill="#2c6cbf"/>
<circle cx="283.3" cy="206.3" r="4.15" fill="#2c6cbf"/>
<circle cx="237.7" cy="214.7" r="4.15" fill="#2c6cbf"/>
<circle cx="238.4" cy="220.4" r="4.15" fill="#2c6cbf"/>
<circle cx="262.2" cy="216.8" r="4.15" fill="#2c6cbf"/>
<circle cx="269.2" cy="212.6" r="4.15" fill="#2c6cbf"/>
<circle cx="475.9" cy="185.3" r="4.15" fill="#2c6cbf"/>
<circle cx="457.6" cy="187.4" r="4.15" fill="#2c6cbf"/>
<circle cx="482.2" cy="194.4" r="4.15" fill="#2c6cbf"/>
<circle cx="500.4" cy="195.8" r="4.15" fill="#2c6cbf"/>
<circle cx="505.3" cy="188.8" r="4.15" fill="#2c6cbf"/>
<circle cx="512.6" cy="179.7" r="4.15" fill="#2c6cbf"/>
<circle cx="524.5" cy="178.3" r="4.15" fill="#2c6cbf"/>
<circle cx="570.1" cy="178.3" r="4.15" fill="#2c6cbf"/>
<circle cx="573.6" cy="185.3" r="4.15" fill="#2c6cbf"/>
<circle cx="588.3" cy="183.9" r="4.15" fill="#2c6cbf"/>
<circle cx="506.7" cy="189.1" r="4.15" fill="#2c6cbf"/>
<circle cx="515.7" cy="194.4" r="4.15" fill="#2c6cbf"/>
<circle cx="564.5" cy="194.4" r="4.15" fill="#2c6cbf"/>
<circle cx="582.7" cy="203.5" r="4.15" fill="#2c6cbf"/>
<circle cx="579.2" cy="207" r="4.15" fill="#2c6cbf"/>
<circle cx="524.9" cy="203.5" r="4.15" fill="#2c6cbf"/>
<circle cx="546.2" cy="206.3" r="4.15" fill="#2c6cbf"/>
<circle cx="594.2" cy="212.6" r="4.15" fill="#2c6cbf"/>
<circle cx="530.8" cy="221.1" r="4.15" fill="#2c6cbf"/>
<circle cx="597.8" cy="206.3" r="4.15" fill="#2c6cbf"/>
<circle cx="607.6" cy="212.6" r="4.15" fill="#2c6cbf"/>
<circle cx="610.5" cy="225" r="4.15" fill="#2c6cbf"/>
<circle cx="85.4" cy="228.3" r="4.15" fill="#2c6cbf"/>
<circle cx="76.3" cy="233.9" r="4.15" fill="#2c6cbf"/>
<circle cx="88.2" cy="239.5" r="4.15" fill="#2c6cbf"/>
<circle cx="115.6" cy="231.5" r="4.15" fill="#2c6cbf"/>
<circle cx="137.3" cy="235.3" r="4.15" fill="#2c6cbf"/>
<circle cx="88.2" cy="251.4" r="4.15" fill="#2c6cbf"/>
<circle cx="133.8" cy="274.6" r="4.15" fill="#2c6cbf"/>
<circle cx="185.5" cy="230.1" r="4.15" fill="#2c6cbf"/>
<circle cx="219.2" cy="231.8" r="4.15" fill="#2c6cbf"/>
<circle cx="219.2" cy="242.3" r="4.15" fill="#2c6cbf"/>
<circle cx="155.4" cy="244.4" r="4.15" fill="#2c6cbf"/>
<circle cx="152.3" cy="255.4" r="4.15" fill="#2c6cbf"/>
<circle cx="197.7" cy="265.7" r="4.15" fill="#2c6cbf"/>
<circle cx="189.1" cy="276.7" r="4.15" fill="#2c6cbf"/>
<circle cx="259.4" cy="239.5" r="4.15" fill="#2c6cbf"/>
<circle cx="255.9" cy="247.6" r="4.15" fill="#2c6cbf"/>
<circle cx="302.2" cy="246.1" r="4.15" fill="#2c6cbf"/>
<circle cx="271.8" cy="271.1" r="4.15" fill="#2c6cbf"/>
<circle cx="576.4" cy="228.7" r="4.15" fill="#2c6cbf"/>
<circle cx="546.2" cy="240.9" r="4.15" fill="#2c6cbf"/>
<circle cx="558.2" cy="247.6" r="4.15" fill="#2c6cbf"/>
<circle cx="570.5" cy="258.7" r="4.15" fill="#2c6cbf"/>
<circle cx="600.9" cy="242.7" r="4.15" fill="#2c6cbf"/>
<circle cx="604.1" cy="251.4" r="4.15" fill="#2c6cbf"/>
<circle cx="133.8" cy="281.8" r="4.15" fill="#2c6cbf"/>
<circle cx="66.5" cy="290.9" r="4.15" fill="#2c6cbf"/>
<circle cx="76.3" cy="301.4" r="4.15" fill="#2c6cbf"/>
<circle cx="88.5" cy="317.5" r="4.15" fill="#2c6cbf"/>
<circle cx="155.4" cy="280.4" r="4.15" fill="#2c6cbf"/>
<circle cx="497.5" cy="335.7" r="4.15" fill="#2c6cbf"/>
<circle cx="366.7" cy="157.5" r="1.7" fill="#aa380b"/>
<circle cx="376.6" cy="161.3" r="1.7" fill="#aa380b"/>
<circle cx="315.1" cy="189.1" r="1.7" fill="#aa380b"/>
<circle cx="323.6" cy="194.8" r="1.7" fill="#aa380b"/>
<circle cx="388.9" cy="165.1" r="1.7" fill="#aa380b"/>
<circle cx="385.1" cy="176.9" r="1.7" fill="#aa380b"/></g>
<g><line x1="58.5" y1="130.6" x2="630" y2="130.6" stroke="#000" stroke-width="2.2" stroke-linecap="round"/>
<line x1="58.5" y1="236.9" x2="630" y2="236.9" stroke="#000" stroke-width="2.2" stroke-linecap="round"/>
<line x1="247.5" y1="9" x2="247.5" y2="343.8" stroke="#000" stroke-width="2.2" stroke-linecap="round"/>
<line x1="430.6" y1="9" x2="430.6" y2="343.8" stroke="#000" stroke-width="2.2" stroke-linecap="round"/></g>
<g><rect x="289.6" y="420.9" width="98.1" height="23.3" fill="#fff" stroke="#7a7a7a" stroke-width="1.6"/>
<circle cx="299.9" cy="433.7" r="4" fill="#aa380b"/>
<circle cx="348.7" cy="433.6" r="4" fill="#2c6cbf"/></g>
<g><text transform="translate(23.8 31.4) scale(1.04 1)" font-size="16.8">180</text>
<text transform="translate(23.9 84.2) scale(1.04 1)" font-size="16.8">150</text>
<text transform="translate(23.2 136.4) scale(1.04 1)" font-size="16.8">120</text>
<text transform="translate(32.6 189.1) scale(1.04 1)" font-size="16.8">90</text>
<text transform="translate(32.6 243.6) scale(1.04 1)" font-size="16.8">60</text>
<text transform="translate(32.6 298) scale(1.04 1)" font-size="16.8">30</text>
<text transform="translate(42.5 349.7) scale(1.04 1)" font-size="16.8">0</text>
<text transform="translate(59.2 369.7) scale(1.04 1)" font-size="16.8">0</text>
<text transform="translate(143.6 369.7) scale(1.04 1)" font-size="16.8">30</text>
<text transform="translate(235.2 369.7) scale(1.04 1)" font-size="16.8">60</text>
<text transform="translate(327.8 369.7) scale(1.04 1)" font-size="16.8">90</text>
<text transform="translate(412.8 369.7) scale(1.04 1)" font-size="16.8">120</text>
<text transform="translate(504.8 369.7) scale(1.04 1)" font-size="16.8">150</text>
<text transform="translate(597.1 369.7) scale(1.04 1)" font-size="16.8">180</text>
<text transform="translate(306.6 15.5) scale(1.04 1)" font-size="16.8">50.9&#37;</text>
<text transform="translate(631.3 186.1) scale(1.04 1)" font-size="16.8">86.6&#37;</text>
<text transform="translate(309 439.8) scale(1.04 1)" font-size="16.8">OD</text>
<text transform="translate(357.6 439.8) scale(1.04 1)" font-size="16.8">OS</text>
<text transform="translate(150.8 405) scale(1.04 1)" font-size="16.8">Anterior corneal steep meridian (degree)</text>
<text transform="translate(14.2,227) rotate(-90) scale(1.034 1)" font-size="16.8" text-anchor="middle">Posterior corneal steep meridian (degrees)</text></g>
</svg></div></body></html>
